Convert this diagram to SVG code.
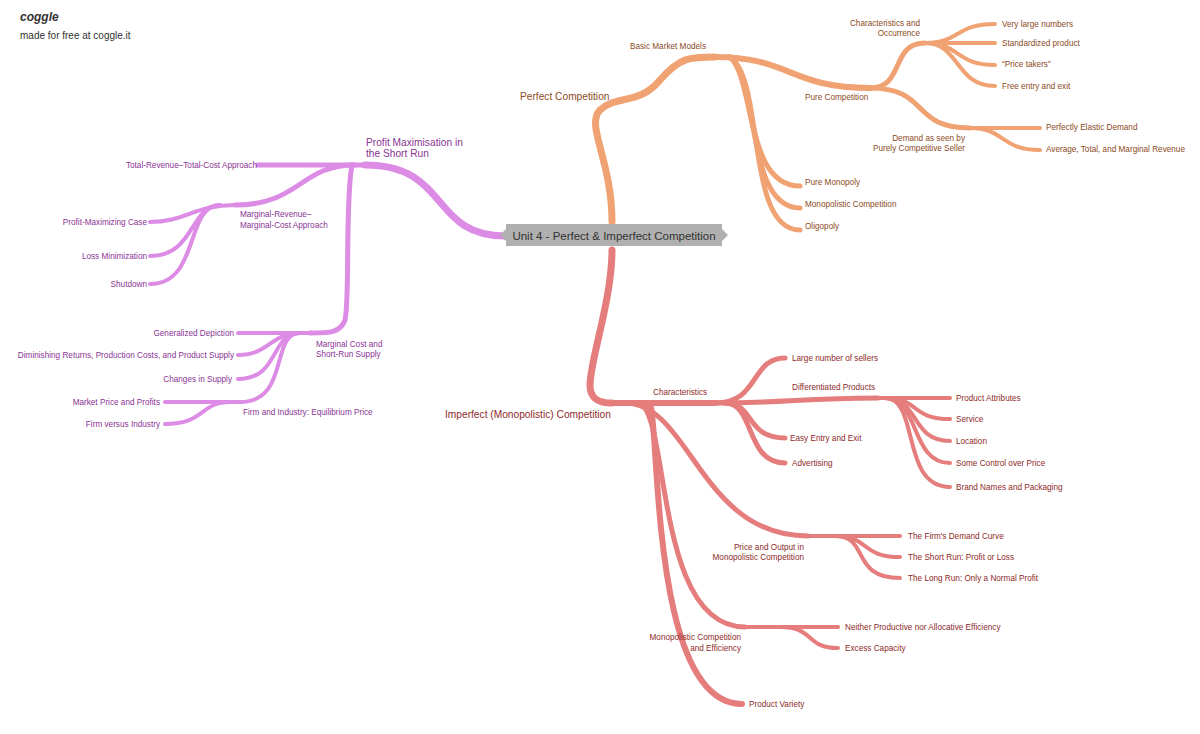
<svg xmlns="http://www.w3.org/2000/svg" width="1200" height="734" viewBox="0 0 1200 734">
<style>
text{font-family:"Liberation Sans",Arial,sans-serif;font-size:8.2px}
.o{stroke:#f0a272;fill:none;stroke-linecap:round}
.p{stroke:#dd8ce6;fill:none;stroke-linecap:round}
.r{stroke:#e67d7d;fill:none;stroke-linecap:round}
.to{fill:#8b4a1e}.tp{fill:#8a3494}.tr{fill:#8e2a2a}
.b{font-size:10.2px}
</style>
<rect width="1200" height="734" fill="#fff"/>
<text x="20" y="21" style="font-size:12px;font-weight:bold;font-style:italic" fill="#333">coggle</text>
<text x="20" y="39" style="font-size:10px" fill="#333">made for free at coggle.it</text>
<g id="connectors">
<g class="o">
<path d="M612 222 C612 160 585 125 600 110 C615 95 640 105 660 80 C680 57 690 57 715 57" stroke-width="7"/>
<path d="M715 57 C790 57 790 88 870 88" stroke-width="6"/>
<path d="M730 57 C755 80 745 186 800 186" stroke-width="5"/>
<path d="M730 57 C760 80 745 208 800 208" stroke-width="5"/>
<path d="M730 57 C765 80 745 230 800 230" stroke-width="5"/>
<path d="M870 88 C905 88 890 43 925 43" stroke-width="5"/>
<path d="M870 88 C930 88 910 128 970 128" stroke-width="5"/>
<path d="M925 43 C960 43 955 24 995 24" stroke-width="4"/>
<path d="M925 43 L995 43" stroke-width="4"/>
<path d="M925 43 C960 43 955 65 995 65" stroke-width="4"/>
<path d="M925 43 C960 43 955 86 995 86" stroke-width="4"/>
<path d="M970 128 L1040 128" stroke-width="4"/>
<path d="M970 128 C1005 128 1000 150 1040 150" stroke-width="4"/>
</g>
<g class="p">
<path d="M505 236 C430 236 450 165 365 165" stroke-width="7"/>
<path d="M365 165 L258 165" stroke-width="5"/>
<path d="M355 165 C300 165 300 205 235 205" stroke-width="5"/>
<path d="M352 165 C345 200 350 300 345 320 C340 333 330 333 310 333" stroke-width="5"/>
<path d="M235 205 C195 205 185 222 150 222" stroke-width="4"/>
<path d="M220 205 C190 205 195 256 150 256" stroke-width="4"/>
<path d="M220 205 C185 205 200 284 150 284" stroke-width="4"/>
<path d="M310 333 L238 333" stroke-width="4"/>
<path d="M300 333 C270 333 270 355 238 355" stroke-width="4"/>
<path d="M300 333 C270 333 280 379 238 379" stroke-width="4"/>
<path d="M300 333 C270 333 290 402 240 402" stroke-width="4"/>
<path d="M240 402 L165 402" stroke-width="4"/>
<path d="M230 402 C200 402 205 424 165 424" stroke-width="4"/>
</g>
<g class="r">
<path d="M612 250 C612 300 590 360 590 385 C590 400 600 403 612 403" stroke-width="7"/>
<path d="M612 403 L715 403" stroke-width="6"/>
<path d="M715 403 C760 403 750 358 785 358" stroke-width="5"/>
<path d="M715 403 C790 403 800 398 878 398" stroke-width="5"/>
<path d="M725 403 C755 403 745 438 785 438" stroke-width="5"/>
<path d="M725 403 C755 403 745 463 785 463" stroke-width="5"/>
<path d="M878 398 L950 398" stroke-width="4"/>
<path d="M885 398 C920 398 910 419 950 419" stroke-width="4"/>
<path d="M885 398 C920 398 910 441 950 441" stroke-width="4"/>
<path d="M885 398 C920 398 910 463 950 463" stroke-width="4"/>
<path d="M885 398 C920 398 900 487 950 487" stroke-width="4"/>
<path d="M625 403 C690 403 700 536 808 536" stroke-width="5"/>
<path d="M808 536 L900 536" stroke-width="4"/>
<path d="M835 536 C870 536 860 557 900 557" stroke-width="4"/>
<path d="M835 536 C870 536 850 578 900 578" stroke-width="4"/>
<path d="M640 403 C670 420 655 627 745 627" stroke-width="5"/>
<path d="M745 627 L838 627" stroke-width="4"/>
<path d="M780 627 C815 627 805 648 838 648" stroke-width="4"/>
<path d="M650 403 C660 430 650 704 742 704" stroke-width="6"/>
</g>
</g>
<g id="center">
<rect x="506" y="224" width="216" height="22" fill="#b0b0b0"/>
<path d="M722 229 L728 235 L722 241 Z M506 229 L500 235 L506 241 Z" fill="#b0b0b0"/>
<text x="614" y="240" text-anchor="middle" style="font-size:11.5px" fill="#333">Unit 4 - Perfect &amp; Imperfect Competition</text>
</g>
<g id="orange">
<text class="to b" x="520" y="100">Perfect Competition</text>
<text class="to" x="630" y="49">Basic Market Models</text>
<text class="to" x="805" y="100">Pure Competition</text>
<text class="to" x="920" y="26" text-anchor="end">Characteristics and</text>
<text class="to" x="920" y="36" text-anchor="end">Occurrence</text>
<text class="to" x="1002" y="27">Very large numbers</text>
<text class="to" x="1002" y="46">Standardized product</text>
<text class="to" x="1002" y="67">“Price takers”</text>
<text class="to" x="1002" y="89">Free entry and exit</text>
<text class="to" x="965" y="141" text-anchor="end">Demand as seen by</text>
<text class="to" x="965" y="151" text-anchor="end">Purely Competitive Seller</text>
<text class="to" x="1046" y="130">Perfectly Elastic Demand</text>
<text class="to" x="1046" y="152">Average, Total, and Marginal Revenue</text>
<text class="to" x="805" y="185">Pure Monopoly</text>
<text class="to" x="805" y="207">Monopolistic Competition</text>
<text class="to" x="805" y="229">Oligopoly</text>
</g>
<g id="purple">
<text class="tp b" x="366" y="146">Profit Maximisation in</text>
<text class="tp b" x="366" y="157">the Short Run</text>
<text class="tp" x="257" y="168" text-anchor="end">Total-Revenue–Total-Cost Approach</text>
<text class="tp" x="240" y="217">Marginal-Revenue–</text>
<text class="tp" x="240" y="228">Marginal-Cost Approach</text>
<text class="tp" x="147" y="225" text-anchor="end">Profit-Maximizing Case</text>
<text class="tp" x="147" y="259" text-anchor="end">Loss Minimization</text>
<text class="tp" x="147" y="287" text-anchor="end">Shutdown</text>
<text class="tp" x="316" y="347">Marginal Cost and</text>
<text class="tp" x="316" y="357">Short-Run Supply</text>
<text class="tp" x="234" y="336" text-anchor="end">Generalized Depiction</text>
<text class="tp" x="234" y="358" text-anchor="end">Diminishing Returns, Production Costs, and Product Supply</text>
<text class="tp" x="232" y="382" text-anchor="end">Changes in Supply</text>
<text class="tp" x="160" y="405" text-anchor="end">Market Price and Profits</text>
<text class="tp" x="160" y="427" text-anchor="end">Firm versus Industry</text>
<text class="tp" x="243" y="415">Firm and Industry: Equilibrium Price</text>
</g>
<g id="red">
<text class="tr b" x="445" y="418">Imperfect (Monopolistic) Competition</text>
<text class="tr" x="653" y="395">Characteristics</text>
<text class="tr" x="792" y="361">Large number of sellers</text>
<text class="tr" x="792" y="390">Differentiated Products</text>
<text class="tr" x="790" y="441">Easy Entry and Exit</text>
<text class="tr" x="792" y="466">Advertising</text>
<text class="tr" x="956" y="401">Product Attributes</text>
<text class="tr" x="956" y="422">Service</text>
<text class="tr" x="956" y="444">Location</text>
<text class="tr" x="956" y="466">Some Control over Price</text>
<text class="tr" x="956" y="490">Brand Names and Packaging</text>
<text class="tr" x="804" y="550" text-anchor="end">Price and Output in</text>
<text class="tr" x="804" y="560" text-anchor="end">Monopolistic Competition</text>
<text class="tr" x="908" y="539">The Firm's Demand Curve</text>
<text class="tr" x="908" y="560">The Short Run: Profit or Loss</text>
<text class="tr" x="908" y="581">The Long Run: Only a Normal Profit</text>
<text class="tr" x="741" y="640" text-anchor="end">Monopolistic Competition</text>
<text class="tr" x="741" y="651" text-anchor="end">and Efficiency</text>
<text class="tr" x="845" y="630">Neither Productive nor Allocative Efficiency</text>
<text class="tr" x="845" y="651">Excess Capacity</text>
<text class="tr" x="749" y="707">Product Variety</text>
</g>
</svg>
